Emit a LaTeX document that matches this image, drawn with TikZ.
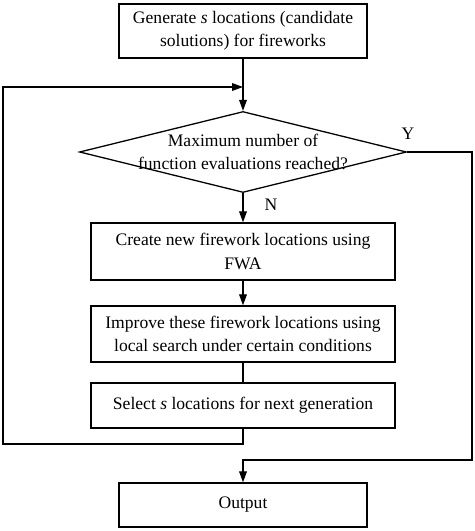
\documentclass[tikz,border=0pt]{standalone}
\usepackage{fontspec}
\setmainfont{Liberation Serif}
\usetikzlibrary{shapes.geometric,arrows.meta}
\begin{document}
\begin{tikzpicture}[line width=1.1pt, font=\fontsize{15}{20}\selectfont,
    box/.style={draw, rectangle, align=center, inner sep=0pt},
    decision/.style={draw, diamond, align=center, inner xsep=-0.7cm, inner ysep=0pt, aspect=4.04, minimum width=9.81cm, minimum height=2.43cm},
    arr/.style={-{Triangle[length=3.3mm,width=2.3mm]}}]
    \useasboundingbox (0,0) rectangle (14.22,15.93);
    % steps of the flow chart
    \node[box, minimum width=7.44cm, minimum height=1.62cm] (gen) at (7.29,15.0) {Generate \textit{s} locations (candidate\\solutions) for fireworks};
    \node[decision] (test) at (7.29,11.37) {Maximum number of\\function evaluations reached?};
    \node[box, minimum width=9.12cm, minimum height=1.71cm] (fwa) at (7.29,8.385) {Create new firework locations using\\FWA};
    \node[box, minimum width=9.12cm, minimum height=1.68cm] (ls) at (7.29,5.91) {Improve these firework locations using\\local search under certain conditions};
    \node[box, minimum width=9.12cm, minimum height=1.35cm] (sel) at (7.29,3.765) {Select \textit{s} locations for next generation};
    \node[box, minimum width=7.44cm, minimum height=1.32cm] (out) at (7.29,0.78) {Output};
    \node (yes) at (12.24,11.91) {Y};
    \node (no) at (8.13,9.78) {N};
    % corners of the two loops
    \coordinate (join) at (7.29,13.32);
    \coordinate (loopbl) at (0.09,2.61);
    \coordinate (looptl) at (0.09,13.32);
    \coordinate (rbot) at (14.16,2.13);
    \draw (gen.south) -- (join);
    \draw[arr] (join) -- (test.north);
    \draw[arr] (test.south) -- (fwa.north);
    \draw[arr] (fwa.south) -- (ls.north);
    \draw (ls.south) -- (sel.north);
    \draw[arr] (sel.south) |- (loopbl) -- (looptl) -- (join);
    \draw[arr] (test.east) -| (rbot) -| (out.north);
\end{tikzpicture}
\end{document}
